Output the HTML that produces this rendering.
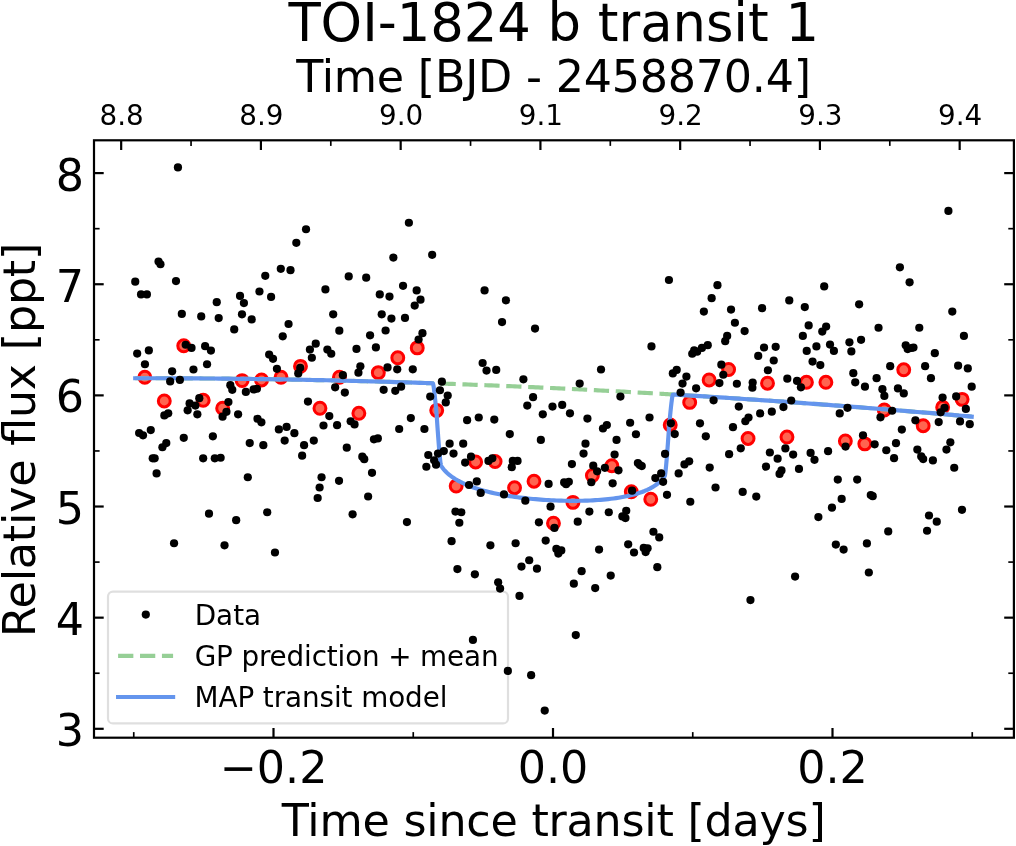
<!DOCTYPE html>
<html><head><meta charset="utf-8"><style>html,body{margin:0;padding:0;background:#fff;}svg{display:block;}</style></head>
<body><svg width="1016" height="846" viewBox="0 0 1016 846">
<rect width="1016" height="846" fill="#fff"/>
<defs><clipPath id="ax"><rect x="94.0" y="140.3" width="919.9" height="597.4000000000001"/></clipPath></defs>
<g clip-path="url(#ax)">
<g fill="#ff6450" stroke="#ff0000" stroke-width="3.0"><circle cx="144.82" cy="377.24" r="5.95"/><circle cx="164.28" cy="400.93" r="5.95"/><circle cx="183.74" cy="345.8" r="5.95"/><circle cx="203.2" cy="400.31" r="5.95"/><circle cx="222.66" cy="408.27" r="5.95"/><circle cx="242.11" cy="380.6" r="5.95"/><circle cx="261.57" cy="379.97" r="5.95"/><circle cx="281.03" cy="377.24" r="5.95"/><circle cx="300.49" cy="366.34" r="5.95"/><circle cx="319.95" cy="408.27" r="5.95"/><circle cx="339.41" cy="377.24" r="5.95"/><circle cx="358.87" cy="413.3" r="5.95"/><circle cx="378.33" cy="372.63" r="5.95"/><circle cx="397.79" cy="357.75" r="5.95"/><circle cx="417.25" cy="347.89" r="5.95"/><circle cx="436.71" cy="410.37" r="5.95"/><circle cx="456.17" cy="486.04" r="5.95"/><circle cx="475.63" cy="461.93" r="5.95"/><circle cx="495.09" cy="461.51" r="5.95"/><circle cx="514.55" cy="487.72" r="5.95"/><circle cx="534.01" cy="481.22" r="5.95"/><circle cx="553.47" cy="523.15" r="5.95"/><circle cx="572.93" cy="502.39" r="5.95"/><circle cx="592.39" cy="475.56" r="5.95"/><circle cx="611.85" cy="465.7" r="5.95"/><circle cx="631.3" cy="491.7" r="5.95"/><circle cx="650.76" cy="499.25" r="5.95"/><circle cx="670.22" cy="425.0" r="5.95"/><circle cx="689.68" cy="402.4" r="5.95"/><circle cx="709.14" cy="379.97" r="5.95"/><circle cx="728.6" cy="369.49" r="5.95"/><circle cx="748.06" cy="438.45" r="5.95"/><circle cx="767.52" cy="383.22" r="5.95"/><circle cx="786.98" cy="437.05" r="5.95"/><circle cx="806.44" cy="382.31" r="5.95"/><circle cx="825.9" cy="382.31" r="5.95"/><circle cx="845.36" cy="440.92" r="5.95"/><circle cx="864.82" cy="443.87" r="5.95"/><circle cx="884.28" cy="410.05" r="5.95"/><circle cx="903.74" cy="369.81" r="5.95"/><circle cx="923.2" cy="425.68" r="5.95"/><circle cx="942.66" cy="407.32" r="5.95"/><circle cx="962.12" cy="399.36" r="5.95"/></g>
<path d="M135.24,378.21 L140.15,378.21 L145.06,378.21 L149.97,378.21 L154.88,378.22 L159.80,378.23 L164.71,378.25 L169.62,378.26 L174.53,378.28 L179.44,378.31 L184.35,378.33 L189.26,378.36 L194.17,378.39 L199.09,378.42 L204.00,378.46 L208.91,378.50 L213.82,378.54 L218.73,378.59 L223.64,378.63 L228.55,378.69 L233.46,378.74 L238.37,378.80 L243.29,378.86 L248.20,378.92 L253.11,378.98 L258.02,379.05 L262.93,379.12 L267.84,379.19 L272.75,379.27 L277.66,379.35 L282.58,379.43 L287.49,379.52 L292.40,379.60 L297.31,379.69 L302.22,379.79 L307.13,379.88 L312.04,379.98 L316.95,380.08 L321.87,380.18 L326.78,380.29 L331.69,380.40 L336.60,380.51 L341.51,380.63 L346.42,380.74 L351.33,380.87 L356.24,380.99 L361.15,381.11 L366.07,381.24 L370.98,381.37 L375.89,381.51 L380.80,381.64 L385.71,381.78 L390.62,381.93 L395.53,382.07 L400.44,382.22 L405.36,382.37 L410.27,382.52 L415.18,382.68 L420.09,382.83 L425.00,383.00 L425.13,383.00 L425.25,383.00 L425.38,383.01 L425.50,383.01 L425.63,383.02 L425.75,383.02 L425.88,383.02 L426.01,383.03 L426.13,383.03 L426.26,383.04 L426.38,383.04 L426.51,383.05 L426.63,383.05 L426.76,383.05 L426.88,383.06 L427.01,383.06 L427.14,383.07 L427.26,383.07 L427.39,383.07 L427.51,383.08 L427.64,383.08 L427.76,383.09 L427.89,383.09 L428.02,383.10 L428.14,383.10 L428.27,383.10 L428.39,383.11 L428.52,383.11 L428.64,383.12 L428.77,383.12 L428.89,383.12 L429.02,383.13 L429.15,383.13 L429.27,383.14 L429.40,383.14 L429.52,383.15 L429.65,383.15 L429.77,383.15 L429.90,383.16 L430.03,383.16 L430.15,383.17 L430.28,383.17 L430.40,383.18 L430.53,383.18 L430.65,383.18 L430.78,383.19 L430.90,383.19 L431.03,383.20 L431.16,383.20 L431.28,383.21 L431.41,383.21 L431.53,383.21 L431.66,383.22 L431.78,383.22 L431.91,383.23 L432.04,383.23 L432.16,383.23 L432.29,383.24 L432.41,383.24 L432.54,383.25 L432.66,383.25 L432.79,383.26 L432.91,383.26 L433.04,383.26 L433.17,383.27 L433.29,383.27 L433.42,383.28 L433.54,383.28 L433.67,383.29 L433.79,383.29 L433.92,383.29 L434.05,383.30 L434.17,383.30 L434.30,383.31 L434.42,383.31 L434.55,383.32 L434.67,383.32 L434.80,383.32 L434.92,383.33 L435.05,383.33 L435.18,383.34 L435.30,383.34 L435.43,383.35 L435.55,383.35 L435.68,383.35 L435.80,383.36 L435.93,383.36 L436.06,383.37 L436.18,383.37 L436.31,383.38 L436.43,383.38 L436.56,383.38 L436.68,383.39 L436.81,383.39 L436.93,383.40 L437.06,383.40 L437.19,383.41 L437.31,383.41 L437.44,383.41 L437.56,383.42 L437.69,383.42 L437.81,383.43 L437.94,383.43 L438.07,383.44 L438.19,383.44 L438.32,383.45 L438.44,383.45 L438.57,383.45 L438.69,383.46 L438.82,383.46 L438.94,383.47 L439.07,383.47 L439.20,383.48 L439.32,383.48 L439.45,383.48 L439.57,383.49 L439.70,383.49 L439.82,383.50 L439.95,383.50 L440.08,383.51 L440.20,383.51 L440.33,383.51 L440.45,383.52 L440.58,383.52 L440.70,383.53 L440.83,383.53 L440.95,383.54 L441.08,383.54 L441.21,383.55 L441.33,383.55 L441.46,383.55 L441.58,383.56 L441.71,383.56 L441.83,383.57 L441.96,383.57 L442.09,383.58 L442.21,383.58 L442.34,383.58 L442.46,383.59 L442.59,383.59 L442.71,383.60 L442.84,383.60 L442.96,383.61 L443.09,383.61 L443.22,383.62 L443.34,383.62 L443.47,383.62 L443.59,383.63 L443.72,383.63 L443.84,383.64 L443.97,383.64 L444.10,383.65 L444.22,383.65 L444.35,383.66 L444.47,383.66 L444.60,383.66 L444.72,383.67 L444.85,383.67 L444.97,383.68 L445.10,383.68 L445.23,383.69 L445.35,383.69 L445.48,383.70 L445.60,383.70 L445.73,383.70 L445.85,383.71 L445.98,383.71 L446.11,383.72 L446.23,383.72 L446.36,383.73 L446.48,383.73 L446.61,383.73 L446.73,383.74 L446.86,383.74 L446.98,383.75 L447.11,383.75 L447.24,383.76 L447.36,383.76 L447.49,383.77 L447.61,383.77 L447.74,383.78 L447.86,383.78 L447.99,383.78 L448.12,383.79 L448.24,383.79 L448.37,383.80 L448.49,383.80 L448.62,383.81 L448.74,383.81 L448.87,383.82 L448.99,383.82 L449.12,383.82 L449.25,383.83 L449.37,383.83 L449.50,383.84 L449.62,383.84 L449.75,383.85 L449.87,383.85 L450.00,383.86 L452.59,383.95 L455.19,384.04 L457.78,384.14 L460.38,384.23 L462.97,384.33 L465.57,384.43 L468.16,384.52 L470.76,384.62 L473.35,384.72 L475.95,384.82 L478.54,384.92 L481.14,385.02 L483.73,385.12 L486.33,385.23 L488.92,385.33 L491.52,385.43 L494.11,385.54 L496.71,385.65 L499.30,385.75 L501.90,385.86 L504.49,385.97 L507.09,386.08 L509.68,386.18 L512.28,386.29 L514.87,386.41 L517.47,386.52 L520.06,386.63 L522.66,386.74 L525.25,386.86 L527.85,386.97 L530.44,387.08 L533.04,387.20 L535.63,387.32 L538.23,387.43 L540.82,387.55 L543.42,387.67 L546.01,387.79 L548.61,387.91 L551.20,388.03 L553.80,388.15 L556.39,388.28 L558.99,388.40 L561.58,388.52 L564.18,388.65 L566.77,388.77 L569.37,388.90 L571.96,389.02 L574.56,389.15 L577.15,389.28 L579.75,389.41 L582.34,389.54 L584.94,389.67 L587.53,389.80 L590.13,389.93 L592.72,390.06 L595.32,390.19 L597.91,390.33 L600.51,390.46 L603.10,390.60 L605.70,390.73 L608.29,390.87 L610.89,391.01 L613.48,391.14 L616.08,391.28 L618.67,391.42 L621.27,391.56 L623.86,391.70 L626.46,391.84 L629.05,391.99 L631.65,392.13 L634.24,392.27 L636.84,392.42 L639.43,392.56 L642.03,392.71 L644.62,392.85 L647.22,393.00 L649.81,393.15 L652.41,393.29 L655.00,393.44 L655.13,393.45 L655.25,393.46 L655.38,393.47 L655.50,393.47 L655.63,393.48 L655.75,393.49 L655.88,393.49 L656.01,393.50 L656.13,393.51 L656.26,393.52 L656.38,393.52 L656.51,393.53 L656.63,393.54 L656.76,393.54 L656.88,393.55 L657.01,393.56 L657.14,393.57 L657.26,393.57 L657.39,393.58 L657.51,393.59 L657.64,393.60 L657.76,393.60 L657.89,393.61 L658.02,393.62 L658.14,393.62 L658.27,393.63 L658.39,393.64 L658.52,393.65 L658.64,393.65 L658.77,393.66 L658.89,393.67 L659.02,393.68 L659.15,393.68 L659.27,393.69 L659.40,393.70 L659.52,393.70 L659.65,393.71 L659.77,393.72 L659.90,393.73 L660.03,393.73 L660.15,393.74 L660.28,393.75 L660.40,393.76 L660.53,393.76 L660.65,393.77 L660.78,393.78 L660.90,393.78 L661.03,393.79 L661.16,393.80 L661.28,393.81 L661.41,393.81 L661.53,393.82 L661.66,393.83 L661.78,393.84 L661.91,393.84 L662.04,393.85 L662.16,393.86 L662.29,393.87 L662.41,393.87 L662.54,393.88 L662.66,393.89 L662.79,393.89 L662.91,393.90 L663.04,393.91 L663.17,393.92 L663.29,393.92 L663.42,393.93 L663.54,393.94 L663.67,393.95 L663.79,393.95 L663.92,393.96 L664.05,393.97 L664.17,393.98 L664.30,393.98 L664.42,393.99 L664.55,394.00 L664.67,394.00 L664.80,394.01 L664.92,394.02 L665.05,394.03 L665.18,394.03 L665.30,394.04 L665.43,394.05 L665.55,394.06 L665.68,394.06 L665.80,394.07 L665.93,394.08 L666.06,394.09 L666.18,394.09 L666.31,394.10 L666.43,394.11 L666.56,394.12 L666.68,394.12 L666.81,394.13 L666.93,394.14 L667.06,394.14 L667.19,394.15 L667.31,394.16 L667.44,394.17 L667.56,394.17 L667.69,394.18 L667.81,394.19 L667.94,394.20 L668.07,394.20 L668.19,394.21 L668.32,394.22 L668.44,394.23 L668.57,394.23 L668.69,394.24 L668.82,394.25 L668.94,394.26 L669.07,394.26 L669.20,394.27 L669.32,394.28 L669.45,394.29 L669.57,394.29 L669.70,394.30 L669.82,394.31 L669.95,394.31 L670.08,394.32 L670.20,394.33 L670.33,394.34 L670.45,394.34 L670.58,394.35 L670.70,394.36 L670.83,394.37 L670.95,394.37 L671.08,394.38 L671.21,394.39 L671.33,394.40 L671.46,394.40 L671.58,394.41 L671.71,394.42 L671.83,394.43 L671.96,394.43 L672.09,394.44 L672.21,394.45 L672.34,394.46 L672.46,394.46 L672.59,394.47 L672.71,394.48 L672.84,394.49 L672.96,394.49 L673.09,394.50 L673.22,394.51 L673.34,394.52 L673.47,394.52 L673.59,394.53 L673.72,394.54 L673.84,394.55 L673.97,394.55 L674.10,394.56 L674.22,394.57 L674.35,394.58 L674.47,394.58 L674.60,394.59 L674.72,394.60 L674.85,394.61 L674.97,394.61 L675.10,394.62 L675.23,394.63 L675.35,394.64 L675.48,394.64 L675.60,394.65 L675.73,394.66 L675.85,394.67 L675.98,394.67 L676.11,394.68 L676.23,394.69 L676.36,394.70 L676.48,394.70 L676.61,394.71 L676.73,394.72 L676.86,394.73 L676.98,394.73 L677.11,394.74 L677.24,394.75 L677.36,394.76 L677.49,394.76 L677.61,394.77 L677.74,394.78 L677.86,394.79 L677.99,394.79 L678.12,394.80 L678.24,394.81 L678.37,394.82 L678.49,394.82 L678.62,394.83 L678.74,394.84 L678.87,394.85 L678.99,394.85 L679.12,394.86 L679.25,394.87 L679.37,394.88 L679.50,394.88 L679.62,394.89 L679.75,394.90 L679.87,394.91 L680.00,394.91 L684.94,395.21 L689.89,395.51 L694.83,395.82 L699.78,396.12 L704.72,396.43 L709.66,396.74 L714.61,397.05 L719.55,397.37 L724.50,397.69 L729.44,398.01 L734.38,398.33 L739.33,398.66 L744.27,398.98 L749.22,399.31 L754.16,399.65 L759.11,399.98 L764.05,400.32 L768.99,400.66 L773.94,401.00 L778.88,401.35 L783.83,401.69 L788.77,402.04 L793.71,402.39 L798.66,402.75 L803.60,403.10 L808.55,403.46 L813.49,403.83 L818.43,404.19 L823.38,404.56 L828.32,404.92 L833.27,405.30 L838.21,405.67 L843.15,406.04 L848.10,406.42 L853.04,406.80 L857.99,407.18 L862.93,407.57 L867.87,407.96 L872.82,408.35 L877.76,408.74 L882.71,409.13 L887.65,409.53 L892.59,409.93 L897.54,410.33 L902.48,410.73 L907.43,411.14 L912.37,411.55 L917.32,411.96 L922.26,412.37 L927.20,412.78 L932.15,413.20 L937.09,413.62 L942.04,414.04 L946.98,414.47 L951.92,414.89 L956.87,415.32 L961.81,415.75 L966.76,416.19 L971.70,416.62" fill="none" stroke="#96cf96" stroke-width="4.17" stroke-dasharray="15.25,6.67" stroke-dashoffset="1.5"/>
<path d="M135.24,378.21 L140.15,378.21 L145.06,378.21 L149.97,378.21 L154.88,378.22 L159.80,378.23 L164.71,378.25 L169.62,378.26 L174.53,378.28 L179.44,378.31 L184.35,378.33 L189.26,378.36 L194.17,378.39 L199.09,378.42 L204.00,378.46 L208.91,378.50 L213.82,378.54 L218.73,378.59 L223.64,378.63 L228.55,378.69 L233.46,378.74 L238.37,378.80 L243.29,378.86 L248.20,378.92 L253.11,378.98 L258.02,379.05 L262.93,379.12 L267.84,379.19 L272.75,379.27 L277.66,379.35 L282.58,379.43 L287.49,379.52 L292.40,379.60 L297.31,379.69 L302.22,379.79 L307.13,379.88 L312.04,379.98 L316.95,380.08 L321.87,380.18 L326.78,380.29 L331.69,380.40 L336.60,380.51 L341.51,380.63 L346.42,380.74 L351.33,380.87 L356.24,380.99 L361.15,381.11 L366.07,381.24 L370.98,381.37 L375.89,381.51 L380.80,381.64 L385.71,381.78 L390.62,381.93 L395.53,382.07 L400.44,382.22 L405.36,382.37 L410.27,382.52 L415.18,382.68 L420.09,382.83 L425.00,383.00 L425.13,383.00 L425.25,383.00 L425.38,383.01 L425.50,383.01 L425.63,383.02 L425.75,383.02 L425.88,383.02 L426.01,383.03 L426.13,383.03 L426.26,383.04 L426.38,383.04 L426.51,383.05 L426.63,383.05 L426.76,383.05 L426.88,383.06 L427.01,383.06 L427.14,383.07 L427.26,383.07 L427.39,383.07 L427.51,383.08 L427.64,383.08 L427.76,383.09 L427.89,383.09 L428.02,383.10 L428.14,383.10 L428.27,383.10 L428.39,383.11 L428.52,383.11 L428.64,383.12 L428.77,383.12 L428.89,383.12 L429.02,383.13 L429.15,383.13 L429.27,383.14 L429.40,383.14 L429.52,383.15 L429.65,383.15 L429.77,383.15 L429.90,383.16 L430.03,383.16 L430.15,383.17 L430.28,383.17 L430.40,383.18 L430.53,383.18 L430.65,383.18 L430.78,383.19 L430.90,383.19 L431.03,383.20 L431.16,383.20 L431.28,383.21 L431.41,383.21 L431.53,383.21 L431.66,383.22 L431.78,383.22 L431.91,383.23 L432.04,383.23 L432.16,383.23 L432.29,383.24 L432.41,383.24 L432.54,383.25 L432.66,383.25 L432.79,383.26 L432.91,383.32 L433.04,383.66 L433.17,384.15 L433.29,384.71 L433.42,385.39 L433.54,386.09 L433.67,386.91 L433.79,387.73 L433.92,388.66 L434.05,389.64 L434.17,390.59 L434.30,391.65 L434.42,392.66 L434.55,393.79 L434.67,394.86 L434.80,396.05 L434.92,397.17 L435.05,398.41 L435.18,399.67 L435.30,400.84 L435.43,402.14 L435.55,403.35 L435.68,404.67 L435.80,405.91 L435.93,407.26 L436.06,408.62 L436.18,409.88 L436.31,411.25 L436.43,412.52 L436.56,413.90 L436.68,415.18 L436.81,416.57 L436.93,418.78 L437.06,420.95 L437.19,422.92 L437.31,424.67 L437.44,426.52 L437.56,428.22 L437.69,430.03 L437.81,431.68 L437.94,433.46 L438.07,435.23 L438.19,436.84 L438.32,438.57 L438.44,440.15 L438.57,441.84 L438.69,443.38 L438.82,445.03 L438.94,446.53 L439.07,448.13 L439.20,449.69 L439.32,451.11 L439.45,452.61 L439.57,453.96 L439.70,455.37 L439.82,456.64 L439.95,457.96 L440.08,459.23 L440.20,460.34 L440.33,461.48 L440.45,462.45 L440.58,463.42 L440.70,464.22 L440.83,464.96 L440.95,465.47 L441.08,465.71 L441.21,465.92 L441.33,466.11 L441.46,466.31 L441.58,466.49 L441.71,466.69 L441.83,466.86 L441.96,467.05 L442.09,467.24 L442.21,467.41 L442.34,467.59 L442.46,467.75 L442.59,467.93 L442.71,468.09 L442.84,468.26 L442.96,468.41 L443.09,468.58 L443.22,468.74 L443.34,468.89 L443.47,469.05 L443.59,469.20 L443.72,469.36 L443.84,469.50 L443.97,469.66 L444.10,469.81 L444.22,469.95 L444.35,470.09 L444.47,470.23 L444.60,470.38 L444.72,470.51 L444.85,470.65 L444.97,470.78 L445.10,470.92 L445.23,471.06 L445.35,471.19 L445.48,471.32 L445.60,471.45 L445.73,471.58 L445.85,471.70 L445.98,471.84 L446.11,471.97 L446.23,472.08 L446.36,472.21 L446.48,472.33 L446.61,472.45 L446.73,472.57 L446.86,472.69 L446.98,472.81 L447.11,472.93 L447.24,473.05 L447.36,473.16 L447.49,473.28 L447.61,473.39 L447.74,473.50 L447.86,473.61 L447.99,473.72 L448.12,473.84 L448.24,473.94 L448.37,474.06 L448.49,474.16 L448.62,474.27 L448.74,474.37 L448.87,474.48 L448.99,474.58 L449.12,474.69 L449.25,474.80 L449.37,474.89 L449.50,475.00 L449.62,475.10 L449.75,475.20 L449.87,475.30 L450.00,475.40 L452.59,477.31 L455.19,479.02 L457.78,480.55 L460.38,481.95 L462.97,483.22 L465.57,484.40 L468.16,485.48 L470.76,486.49 L473.35,487.43 L475.95,488.32 L478.54,489.14 L481.14,489.92 L483.73,490.65 L486.33,491.34 L488.92,491.99 L491.52,492.61 L494.11,493.19 L496.71,493.74 L499.30,494.26 L501.90,494.76 L504.49,495.22 L507.09,495.67 L509.68,496.09 L512.28,496.49 L514.87,496.86 L517.47,497.22 L520.06,497.56 L522.66,497.87 L525.25,498.17 L527.85,498.46 L530.44,498.72 L533.04,498.97 L535.63,499.20 L538.23,499.42 L540.82,499.62 L543.42,499.80 L546.01,499.97 L548.61,500.12 L551.20,500.26 L553.80,500.39 L556.39,500.50 L558.99,500.59 L561.58,500.67 L564.18,500.73 L566.77,500.78 L569.37,500.81 L571.96,500.83 L574.56,500.83 L577.15,500.81 L579.75,500.78 L582.34,500.73 L584.94,500.66 L587.53,500.57 L590.13,500.46 L592.72,500.34 L595.32,500.19 L597.91,500.02 L600.51,499.82 L603.10,499.61 L605.70,499.36 L608.29,499.09 L610.89,498.79 L613.48,498.46 L616.08,498.10 L618.67,497.70 L621.27,497.27 L623.86,496.79 L626.46,496.27 L629.05,495.70 L631.65,495.08 L634.24,494.40 L636.84,493.65 L639.43,492.83 L642.03,491.93 L644.62,490.93 L647.22,489.81 L649.81,488.57 L652.41,487.16 L655.00,485.56 L655.13,485.47 L655.25,485.39 L655.38,485.30 L655.50,485.22 L655.63,485.13 L655.75,485.05 L655.88,484.96 L656.01,484.87 L656.13,484.78 L656.26,484.69 L656.38,484.60 L656.51,484.51 L656.63,484.42 L656.76,484.33 L656.88,484.24 L657.01,484.14 L657.14,484.04 L657.26,483.95 L657.39,483.85 L657.51,483.76 L657.64,483.66 L657.76,483.56 L657.89,483.46 L658.02,483.36 L658.14,483.26 L658.27,483.16 L658.39,483.06 L658.52,482.95 L658.64,482.85 L658.77,482.74 L658.89,482.64 L659.02,482.53 L659.15,482.42 L659.27,482.31 L659.40,482.20 L659.52,482.09 L659.65,481.97 L659.77,481.86 L659.90,481.75 L660.03,481.63 L660.15,481.51 L660.28,481.39 L660.40,481.28 L660.53,481.15 L660.65,481.04 L660.78,480.91 L660.90,480.79 L661.03,480.66 L661.16,480.53 L661.28,480.40 L661.41,480.27 L661.53,480.14 L661.66,480.01 L661.78,479.88 L661.91,479.74 L662.04,479.59 L662.16,479.46 L662.29,479.31 L662.41,479.18 L662.54,479.03 L662.66,478.88 L662.79,478.73 L662.91,478.59 L663.04,478.43 L663.17,478.27 L663.29,478.12 L663.42,477.95 L663.54,477.80 L663.67,477.63 L663.79,477.47 L663.92,477.29 L664.05,477.11 L664.17,476.94 L664.30,476.76 L664.42,476.59 L664.55,476.39 L664.67,476.22 L664.80,476.01 L664.92,475.56 L665.05,474.87 L665.18,474.03 L665.30,473.16 L665.43,472.13 L665.55,471.10 L665.68,469.92 L665.80,468.77 L665.93,467.47 L666.06,466.12 L666.18,464.83 L666.31,463.38 L666.43,462.02 L666.56,460.50 L666.68,459.07 L666.81,457.49 L666.93,456.01 L667.06,454.38 L667.19,452.72 L667.31,451.17 L667.44,449.48 L667.56,447.89 L667.69,446.16 L667.81,444.55 L667.94,442.78 L668.07,441.00 L668.19,439.34 L668.32,437.53 L668.44,435.83 L668.57,433.95 L668.69,432.16 L668.82,430.07 L668.94,427.68 L669.07,426.31 L669.20,424.94 L669.32,423.67 L669.45,422.31 L669.57,421.05 L669.70,419.69 L669.82,418.45 L669.95,417.11 L670.08,415.79 L670.20,414.57 L670.33,413.27 L670.45,412.08 L670.58,410.82 L670.70,409.66 L670.83,408.43 L670.95,407.32 L671.08,406.14 L671.21,404.99 L671.33,403.95 L671.46,402.86 L671.58,401.89 L671.71,400.87 L671.83,399.97 L671.96,399.04 L672.09,398.16 L672.21,397.41 L672.34,396.65 L672.46,396.02 L672.59,395.42 L672.71,394.96 L672.84,394.60 L672.96,394.49 L673.09,394.50 L673.22,394.51 L673.34,394.52 L673.47,394.52 L673.59,394.53 L673.72,394.54 L673.84,394.55 L673.97,394.55 L674.10,394.56 L674.22,394.57 L674.35,394.58 L674.47,394.58 L674.60,394.59 L674.72,394.60 L674.85,394.61 L674.97,394.61 L675.10,394.62 L675.23,394.63 L675.35,394.64 L675.48,394.64 L675.60,394.65 L675.73,394.66 L675.85,394.67 L675.98,394.67 L676.11,394.68 L676.23,394.69 L676.36,394.70 L676.48,394.70 L676.61,394.71 L676.73,394.72 L676.86,394.73 L676.98,394.73 L677.11,394.74 L677.24,394.75 L677.36,394.76 L677.49,394.76 L677.61,394.77 L677.74,394.78 L677.86,394.79 L677.99,394.79 L678.12,394.80 L678.24,394.81 L678.37,394.82 L678.49,394.82 L678.62,394.83 L678.74,394.84 L678.87,394.85 L678.99,394.85 L679.12,394.86 L679.25,394.87 L679.37,394.88 L679.50,394.88 L679.62,394.89 L679.75,394.90 L679.87,394.91 L680.00,394.91 L684.94,395.21 L689.89,395.51 L694.83,395.82 L699.78,396.12 L704.72,396.43 L709.66,396.74 L714.61,397.05 L719.55,397.37 L724.50,397.69 L729.44,398.01 L734.38,398.33 L739.33,398.66 L744.27,398.98 L749.22,399.31 L754.16,399.65 L759.11,399.98 L764.05,400.32 L768.99,400.66 L773.94,401.00 L778.88,401.35 L783.83,401.69 L788.77,402.04 L793.71,402.39 L798.66,402.75 L803.60,403.10 L808.55,403.46 L813.49,403.83 L818.43,404.19 L823.38,404.56 L828.32,404.92 L833.27,405.30 L838.21,405.67 L843.15,406.04 L848.10,406.42 L853.04,406.80 L857.99,407.18 L862.93,407.57 L867.87,407.96 L872.82,408.35 L877.76,408.74 L882.71,409.13 L887.65,409.53 L892.59,409.93 L897.54,410.33 L902.48,410.73 L907.43,411.14 L912.37,411.55 L917.32,411.96 L922.26,412.37 L927.20,412.78 L932.15,413.20 L937.09,413.62 L942.04,414.04 L946.98,414.47 L951.92,414.89 L956.87,415.32 L961.81,415.75 L966.76,416.19 L971.70,416.62" fill="none" stroke="#6495ed" stroke-width="4.17" stroke-linecap="square" stroke-linejoin="round"/>
</g>

<rect x="108" y="591.6" width="400" height="131.8" rx="5" ry="5" fill="#fff" fill-opacity="0.8" stroke="#dfdfdf" stroke-width="2.2"/>
<circle cx="145.8" cy="614.6" r="4.1" fill="#000"/>
<text x="194.7" y="624.9" font-size="27.8" font-family="DejaVu Sans, Liberation Sans, sans-serif">Data</text>
<line x1="118.1" y1="655.9" x2="173.1" y2="655.9" stroke="#96cf96" stroke-width="4.17" stroke-dasharray="15.25,6.67"/>
<text x="194.7" y="665.9" font-size="27.8" textLength="303.8" lengthAdjust="spacing" font-family="DejaVu Sans, Liberation Sans, sans-serif">GP prediction + mean</text>
<line x1="118.1" y1="697" x2="173.1" y2="697" stroke="#6495ed" stroke-width="4.17" stroke-linecap="square"/>
<text x="194.6" y="707" font-size="27.8" textLength="252.8" lengthAdjust="spacing" font-family="DejaVu Sans, Liberation Sans, sans-serif">MAP transit model</text>

<g clip-path="url(#ax)" fill="#000"><circle cx="135.24" cy="281.66" r="4.1"/><circle cx="137.18" cy="353.55" r="4.1"/><circle cx="139.12" cy="433.0" r="4.1"/><circle cx="141.06" cy="294.43" r="4.1"/><circle cx="143.01" cy="435.3" r="4.1"/><circle cx="144.95" cy="364.25" r="4.1"/><circle cx="146.89" cy="294.43" r="4.1"/><circle cx="148.83" cy="350.41" r="4.1"/><circle cx="150.77" cy="430.06" r="4.1"/><circle cx="152.71" cy="458.37" r="4.1"/><circle cx="154.65" cy="458.37" r="4.1"/><circle cx="156.59" cy="473.46" r="4.1"/><circle cx="158.53" cy="261.53" r="4.1"/><circle cx="160.47" cy="264.26" r="4.1"/><circle cx="162.41" cy="447.25" r="4.1"/><circle cx="164.35" cy="415.4" r="4.1"/><circle cx="166.29" cy="443.06" r="4.1"/><circle cx="168.23" cy="413.3" r="4.1"/><circle cx="170.18" cy="381.44" r="4.1"/><circle cx="172.12" cy="371.37" r="4.1"/><circle cx="174.06" cy="543.27" r="4.1"/><circle cx="176.0" cy="281.03" r="4.1"/><circle cx="177.94" cy="167.4" r="4.1"/><circle cx="179.88" cy="379.97" r="4.1"/><circle cx="181.82" cy="313.93" r="4.1"/><circle cx="183.76" cy="437.82" r="4.1"/><circle cx="185.7" cy="344.75" r="4.1"/><circle cx="187.64" cy="410.37" r="4.1"/><circle cx="189.58" cy="403.45" r="4.1"/><circle cx="191.52" cy="347.89" r="4.1"/><circle cx="193.46" cy="369.49" r="4.1"/><circle cx="195.4" cy="405.55" r="4.1"/><circle cx="197.35" cy="414.35" r="4.1"/><circle cx="199.29" cy="398.21" r="4.1"/><circle cx="201.23" cy="316.45" r="4.1"/><circle cx="203.17" cy="458.37" r="4.1"/><circle cx="205.11" cy="346.22" r="4.1"/><circle cx="207.05" cy="364.25" r="4.1"/><circle cx="208.99" cy="513.71" r="4.1"/><circle cx="210.93" cy="350.62" r="4.1"/><circle cx="212.87" cy="436.35" r="4.1"/><circle cx="214.81" cy="458.37" r="4.1"/><circle cx="216.75" cy="302.19" r="4.1"/><circle cx="218.69" cy="318.12" r="4.1"/><circle cx="220.63" cy="457.74" r="4.1"/><circle cx="222.57" cy="416.66" r="4.1"/><circle cx="224.52" cy="545.37" r="4.1"/><circle cx="226.46" cy="411.84" r="4.1"/><circle cx="228.4" cy="401.98" r="4.1"/><circle cx="230.34" cy="385.21" r="4.1"/><circle cx="232.28" cy="389.82" r="4.1"/><circle cx="234.22" cy="329.44" r="4.1"/><circle cx="236.16" cy="520.21" r="4.1"/><circle cx="238.1" cy="414.35" r="4.1"/><circle cx="240.04" cy="295.9" r="4.1"/><circle cx="241.98" cy="314.35" r="4.1"/><circle cx="243.92" cy="303.03" r="4.1"/><circle cx="245.86" cy="391.92" r="4.1"/><circle cx="247.8" cy="477.23" r="4.1"/><circle cx="249.74" cy="443.06" r="4.1"/><circle cx="251.69" cy="319.38" r="4.1"/><circle cx="253.63" cy="389.4" r="4.1"/><circle cx="256.93" cy="388.77" r="4.1"/><circle cx="257.51" cy="418.75" r="4.1"/><circle cx="259.45" cy="291.51" r="4.1"/><circle cx="261.39" cy="422.32" r="4.1"/><circle cx="263.33" cy="445.16" r="4.1"/><circle cx="265.27" cy="275.79" r="4.1"/><circle cx="267.21" cy="512.24" r="4.1"/><circle cx="269.15" cy="354.6" r="4.1"/><circle cx="271.09" cy="296.95" r="4.1"/><circle cx="273.03" cy="358.8" r="4.1"/><circle cx="274.97" cy="552.5" r="4.1"/><circle cx="276.91" cy="368.86" r="4.1"/><circle cx="278.86" cy="429.43" r="4.1"/><circle cx="280.8" cy="268.87" r="4.1"/><circle cx="282.74" cy="336.36" r="4.1"/><circle cx="284.68" cy="440.55" r="4.1"/><circle cx="286.62" cy="426.92" r="4.1"/><circle cx="288.56" cy="323.99" r="4.1"/><circle cx="290.5" cy="270.13" r="4.1"/><circle cx="294.38" cy="433.21" r="4.1"/><circle cx="296.32" cy="242.87" r="4.1"/><circle cx="298.26" cy="373.47" r="4.1"/><circle cx="300.2" cy="367.81" r="4.1"/><circle cx="302.14" cy="455.64" r="4.1"/><circle cx="304.08" cy="445.16" r="4.1"/><circle cx="306.03" cy="229.25" r="4.1"/><circle cx="307.97" cy="401.56" r="4.1"/><circle cx="309.91" cy="349.57" r="4.1"/><circle cx="311.85" cy="357.75" r="4.1"/><circle cx="313.79" cy="440.55" r="4.1"/><circle cx="315.73" cy="343.7" r="4.1"/><circle cx="317.67" cy="497.99" r="4.1"/><circle cx="319.61" cy="487.51" r="4.1"/><circle cx="321.55" cy="477.23" r="4.1"/><circle cx="323.49" cy="425.5" r="4.1"/><circle cx="325.43" cy="289.41" r="4.1"/><circle cx="327.37" cy="349.57" r="4.1"/><circle cx="329.31" cy="416.03" r="4.1"/><circle cx="331.25" cy="353.76" r="4.1"/><circle cx="333.2" cy="314.35" r="4.1"/><circle cx="335.14" cy="387.31" r="4.1"/><circle cx="337.08" cy="425.2" r="4.1"/><circle cx="339.02" cy="480.8" r="4.1"/><circle cx="339.32" cy="330.7" r="4.1"/><circle cx="342.9" cy="375.15" r="4.1"/><circle cx="344.84" cy="392.55" r="4.1"/><circle cx="346.78" cy="447.67" r="4.1"/><circle cx="348.72" cy="276.42" r="4.1"/><circle cx="350.66" cy="421.27" r="4.1"/><circle cx="352.6" cy="514.34" r="4.1"/><circle cx="354.54" cy="424.41" r="4.1"/><circle cx="356.48" cy="348.94" r="4.1"/><circle cx="358.42" cy="372.63" r="4.1"/><circle cx="360.37" cy="366.34" r="4.1"/><circle cx="362.31" cy="456.69" r="4.1"/><circle cx="364.25" cy="459.2" r="4.1"/><circle cx="366.19" cy="277.67" r="4.1"/><circle cx="368.13" cy="496.52" r="4.1"/><circle cx="370.07" cy="335.31" r="4.1"/><circle cx="372.01" cy="472.83" r="4.1"/><circle cx="373.95" cy="439.29" r="4.1"/><circle cx="375.89" cy="347.47" r="4.1"/><circle cx="377.83" cy="438.45" r="4.1"/><circle cx="379.77" cy="294.43" r="4.1"/><circle cx="381.71" cy="314.35" r="4.1"/><circle cx="383.65" cy="389.82" r="4.1"/><circle cx="385.6" cy="330.49" r="4.1"/><circle cx="387.54" cy="367.39" r="4.1"/><circle cx="389.48" cy="296.53" r="4.1"/><circle cx="391.42" cy="318.54" r="4.1"/><circle cx="393.36" cy="257.55" r="4.1"/><circle cx="395.3" cy="390.87" r="4.1"/><circle cx="397.24" cy="369.28" r="4.1"/><circle cx="399.18" cy="429.01" r="4.1"/><circle cx="401.12" cy="386.68" r="4.1"/><circle cx="403.06" cy="285.85" r="4.1"/><circle cx="405.0" cy="317.91" r="4.1"/><circle cx="406.94" cy="522.1" r="4.1"/><circle cx="408.88" cy="222.75" r="4.1"/><circle cx="410.82" cy="418.12" r="4.1"/><circle cx="412.77" cy="369.28" r="4.1"/><circle cx="414.71" cy="305.55" r="4.1"/><circle cx="416.65" cy="290.46" r="4.1"/><circle cx="418.59" cy="339.51" r="4.1"/><circle cx="420.53" cy="299.68" r="4.1"/><circle cx="422.47" cy="333.22" r="4.1"/><circle cx="424.41" cy="429.01" r="4.1"/><circle cx="426.35" cy="466.75" r="4.1"/><circle cx="428.29" cy="455.01" r="4.1"/><circle cx="430.23" cy="396.53" r="4.1"/><circle cx="432.17" cy="254.82" r="4.1"/><circle cx="434.11" cy="460.25" r="4.1"/><circle cx="436.05" cy="464.65" r="4.1"/><circle cx="437.99" cy="453.54" r="4.1"/><circle cx="439.94" cy="390.24" r="4.1"/><circle cx="441.88" cy="381.65" r="4.1"/><circle cx="443.82" cy="451.03" r="4.1"/><circle cx="445.76" cy="402.4" r="4.1"/><circle cx="447.7" cy="395.48" r="4.1"/><circle cx="449.64" cy="443.69" r="4.1"/><circle cx="451.58" cy="541.18" r="4.1"/><circle cx="453.52" cy="453.54" r="4.1"/><circle cx="455.46" cy="511.62" r="4.1"/><circle cx="457.4" cy="569.05" r="4.1"/><circle cx="459.34" cy="522.73" r="4.1"/><circle cx="461.28" cy="512.24" r="4.1"/><circle cx="463.22" cy="443.69" r="4.1"/><circle cx="465.16" cy="462.56" r="4.1"/><circle cx="467.11" cy="420.22" r="4.1"/><circle cx="469.05" cy="484.99" r="4.1"/><circle cx="470.99" cy="456.69" r="4.1"/><circle cx="472.93" cy="639.91" r="4.1"/><circle cx="474.87" cy="574.29" r="4.1"/><circle cx="476.81" cy="481.43" r="4.1"/><circle cx="478.75" cy="417.5" r="4.1"/><circle cx="480.69" cy="492.96" r="4.1"/><circle cx="482.63" cy="362.99" r="4.1"/><circle cx="484.57" cy="290.46" r="4.1"/><circle cx="486.51" cy="370.54" r="4.1"/><circle cx="488.45" cy="460.88" r="4.1"/><circle cx="490.39" cy="545.37" r="4.1"/><circle cx="492.33" cy="458.37" r="4.1"/><circle cx="494.28" cy="419.59" r="4.1"/><circle cx="496.22" cy="369.91" r="4.1"/><circle cx="498.16" cy="582.25" r="4.1"/><circle cx="500.1" cy="588.54" r="4.1"/><circle cx="502.04" cy="322.11" r="4.1"/><circle cx="503.98" cy="494.42" r="4.1"/><circle cx="505.92" cy="300.3" r="4.1"/><circle cx="507.86" cy="670.93" r="4.1"/><circle cx="509.8" cy="434.05" r="4.1"/><circle cx="511.74" cy="467.17" r="4.1"/><circle cx="512.78" cy="460.88" r="4.1"/><circle cx="515.62" cy="543.27" r="4.1"/><circle cx="517.56" cy="460.88" r="4.1"/><circle cx="519.5" cy="595.88" r="4.1"/><circle cx="521.45" cy="566.53" r="4.1"/><circle cx="523.39" cy="379.34" r="4.1"/><circle cx="525.33" cy="500.71" r="4.1"/><circle cx="527.27" cy="405.55" r="4.1"/><circle cx="529.21" cy="560.24" r="4.1"/><circle cx="531.15" cy="675.13" r="4.1"/><circle cx="533.09" cy="397.16" r="4.1"/><circle cx="535.03" cy="328.61" r="4.1"/><circle cx="536.97" cy="568.63" r="4.1"/><circle cx="538.91" cy="522.31" r="4.1"/><circle cx="540.85" cy="439.92" r="4.1"/><circle cx="542.79" cy="414.35" r="4.1"/><circle cx="544.73" cy="710.56" r="4.1"/><circle cx="545.69" cy="540.55" r="4.1"/><circle cx="548.62" cy="483.94" r="4.1"/><circle cx="550.56" cy="506.58" r="4.1"/><circle cx="552.5" cy="406.59" r="4.1"/><circle cx="554.44" cy="527.97" r="4.1"/><circle cx="556.38" cy="548.93" r="4.1"/><circle cx="558.32" cy="553.54" r="4.1"/><circle cx="561.29" cy="550.4" r="4.1"/><circle cx="562.2" cy="404.92" r="4.1"/><circle cx="564.14" cy="482.47" r="4.1"/><circle cx="566.08" cy="484.2" r="4.1"/><circle cx="568.83" cy="481.85" r="4.1"/><circle cx="569.96" cy="413.3" r="4.1"/><circle cx="571.9" cy="464.03" r="4.1"/><circle cx="573.84" cy="583.72" r="4.1"/><circle cx="575.79" cy="635.08" r="4.1"/><circle cx="577.73" cy="521.68" r="4.1"/><circle cx="579.67" cy="383.53" r="4.1"/><circle cx="581.61" cy="571.14" r="4.1"/><circle cx="583.55" cy="453.54" r="4.1"/><circle cx="585.49" cy="443.69" r="4.1"/><circle cx="587.43" cy="418.54" r="4.1"/><circle cx="589.37" cy="511.62" r="4.1"/><circle cx="591.31" cy="482.26" r="4.1"/><circle cx="593.25" cy="465.7" r="4.1"/><circle cx="595.19" cy="588.12" r="4.1"/><circle cx="597.13" cy="471.36" r="4.1"/><circle cx="599.07" cy="549.56" r="4.1"/><circle cx="601.01" cy="369.49" r="4.1"/><circle cx="602.96" cy="428.5" r="4.1"/><circle cx="604.9" cy="467.8" r="4.1"/><circle cx="606.84" cy="425.0" r="4.1"/><circle cx="608.78" cy="512.24" r="4.1"/><circle cx="610.72" cy="575.55" r="4.1"/><circle cx="612.66" cy="483.31" r="4.1"/><circle cx="614.6" cy="454.59" r="4.1"/><circle cx="616.54" cy="439.92" r="4.1"/><circle cx="618.48" cy="470.31" r="4.1"/><circle cx="620.42" cy="396.53" r="4.1"/><circle cx="622.36" cy="516.44" r="4.1"/><circle cx="625.44" cy="518.11" r="4.1"/><circle cx="626.24" cy="510.78" r="4.1"/><circle cx="628.19" cy="544.32" r="4.1"/><circle cx="630.13" cy="422.74" r="4.1"/><circle cx="632.07" cy="490.65" r="4.1"/><circle cx="634.01" cy="552.5" r="4.1"/><circle cx="635.95" cy="434.26" r="4.1"/><circle cx="637.89" cy="462.98" r="4.1"/><circle cx="639.83" cy="465.0" r="4.1"/><circle cx="641.77" cy="466.12" r="4.1"/><circle cx="643.71" cy="547.88" r="4.1"/><circle cx="645.65" cy="552.08" r="4.1"/><circle cx="647.59" cy="548.3" r="4.1"/><circle cx="649.53" cy="417.5" r="4.1"/><circle cx="651.47" cy="346.43" r="4.1"/><circle cx="653.41" cy="531.74" r="4.1"/><circle cx="655.36" cy="478.07" r="4.1"/><circle cx="657.3" cy="567.16" r="4.1"/><circle cx="659.24" cy="537.4" r="4.1"/><circle cx="661.18" cy="473.46" r="4.1"/><circle cx="663.12" cy="481.85" r="4.1"/><circle cx="665.06" cy="453.96" r="4.1"/><circle cx="667.0" cy="494.84" r="4.1"/><circle cx="668.94" cy="279.98" r="4.1"/><circle cx="670.88" cy="423.37" r="4.1"/><circle cx="672.82" cy="373.47" r="4.1"/><circle cx="674.76" cy="434.05" r="4.1"/><circle cx="676.7" cy="369.91" r="4.1"/><circle cx="678.64" cy="473.46" r="4.1"/><circle cx="680.58" cy="392.55" r="4.1"/><circle cx="682.53" cy="383.53" r="4.1"/><circle cx="684.47" cy="464.44" r="4.1"/><circle cx="686.41" cy="376.62" r="4.1"/><circle cx="689.17" cy="461.3" r="4.1"/><circle cx="690.29" cy="501.76" r="4.1"/><circle cx="692.23" cy="353.76" r="4.1"/><circle cx="694.17" cy="350.4" r="4.1"/><circle cx="696.11" cy="388.36" r="4.1"/><circle cx="697.14" cy="351.67" r="4.1"/><circle cx="699.99" cy="423.37" r="4.1"/><circle cx="701.93" cy="347.89" r="4.1"/><circle cx="703.87" cy="311.62" r="4.1"/><circle cx="705.81" cy="436.35" r="4.1"/><circle cx="707.75" cy="345.17" r="4.1"/><circle cx="709.7" cy="467.59" r="4.1"/><circle cx="711.64" cy="298.21" r="4.1"/><circle cx="713.58" cy="400.31" r="4.1"/><circle cx="715.52" cy="487.51" r="4.1"/><circle cx="717.46" cy="285.22" r="4.1"/><circle cx="719.4" cy="383.11" r="4.1"/><circle cx="721.34" cy="364.67" r="4.1"/><circle cx="723.28" cy="374.73" r="4.1"/><circle cx="725.22" cy="341.19" r="4.1"/><circle cx="727.16" cy="335.94" r="4.1"/><circle cx="729.1" cy="454.17" r="4.1"/><circle cx="731.04" cy="309.53" r="4.1"/><circle cx="732.98" cy="427.2" r="4.1"/><circle cx="734.92" cy="322.74" r="4.1"/><circle cx="736.87" cy="383.74" r="4.1"/><circle cx="738.81" cy="406.59" r="4.1"/><circle cx="740.75" cy="448.3" r="4.1"/><circle cx="742.69" cy="491.91" r="4.1"/><circle cx="744.63" cy="331.12" r="4.1"/><circle cx="745.36" cy="421.27" r="4.1"/><circle cx="748.51" cy="417.5" r="4.1"/><circle cx="750.45" cy="600.07" r="4.1"/><circle cx="752.39" cy="387.73" r="4.1"/><circle cx="752.69" cy="382.49" r="4.1"/><circle cx="756.27" cy="496.62" r="4.1"/><circle cx="758.21" cy="355.94" r="4.1"/><circle cx="760.15" cy="413.46" r="4.1"/><circle cx="762.09" cy="308.19" r="4.1"/><circle cx="764.04" cy="347.52" r="4.1"/><circle cx="765.98" cy="466.61" r="4.1"/><circle cx="767.92" cy="370.26" r="4.1"/><circle cx="769.86" cy="452.51" r="4.1"/><circle cx="771.8" cy="411.64" r="4.1"/><circle cx="773.74" cy="360.48" r="4.1"/><circle cx="775.68" cy="346.84" r="4.1"/><circle cx="777.62" cy="458.65" r="4.1"/><circle cx="779.56" cy="473.88" r="4.1"/><circle cx="781.5" cy="470.47" r="4.1"/><circle cx="783.44" cy="407.09" r="4.1"/><circle cx="785.38" cy="448.42" r="4.1"/><circle cx="787.32" cy="378.67" r="4.1"/><circle cx="789.26" cy="300.46" r="4.1"/><circle cx="791.21" cy="400.5" r="4.1"/><circle cx="793.15" cy="454.56" r="4.1"/><circle cx="795.09" cy="576.6" r="4.1"/><circle cx="797.03" cy="380.95" r="4.1"/><circle cx="798.97" cy="468.88" r="4.1"/><circle cx="800.91" cy="387.31" r="4.1"/><circle cx="802.85" cy="335.93" r="4.1"/><circle cx="804.79" cy="307.05" r="4.1"/><circle cx="806.73" cy="350.94" r="4.1"/><circle cx="808.67" cy="325.47" r="4.1"/><circle cx="810.61" cy="452.97" r="4.1"/><circle cx="812.55" cy="361.62" r="4.1"/><circle cx="814.49" cy="459.79" r="4.1"/><circle cx="816.43" cy="346.39" r="4.1"/><circle cx="818.38" cy="517.08" r="4.1"/><circle cx="820.32" cy="365.03" r="4.1"/><circle cx="822.26" cy="331.61" r="4.1"/><circle cx="824.2" cy="286.42" r="4.1"/><circle cx="826.14" cy="326.61" r="4.1"/><circle cx="828.08" cy="451.15" r="4.1"/><circle cx="830.02" cy="344.57" r="4.1"/><circle cx="831.96" cy="507.53" r="4.1"/><circle cx="833.9" cy="350.94" r="4.1"/><circle cx="835.84" cy="544.59" r="4.1"/><circle cx="837.78" cy="479.57" r="4.1"/><circle cx="839.72" cy="413.46" r="4.1"/><circle cx="841.66" cy="498.89" r="4.1"/><circle cx="843.61" cy="549.6" r="4.1"/><circle cx="845.55" cy="446.6" r="4.1"/><circle cx="847.49" cy="407.78" r="4.1"/><circle cx="849.43" cy="342.3" r="4.1"/><circle cx="851.37" cy="351.39" r="4.1"/><circle cx="853.31" cy="373.22" r="4.1"/><circle cx="855.25" cy="382.31" r="4.1"/><circle cx="857.19" cy="479.57" r="4.1"/><circle cx="859.13" cy="304.33" r="4.1"/><circle cx="861.07" cy="339.79" r="4.1"/><circle cx="863.01" cy="435.23" r="4.1"/><circle cx="864.95" cy="386.63" r="4.1"/><circle cx="866.89" cy="543.46" r="4.1"/><circle cx="868.83" cy="572.51" r="4.1"/><circle cx="870.78" cy="495.03" r="4.1"/><circle cx="872.72" cy="496.17" r="4.1"/><circle cx="874.66" cy="444.33" r="4.1"/><circle cx="876.6" cy="378.22" r="4.1"/><circle cx="878.54" cy="327.74" r="4.1"/><circle cx="880.48" cy="417.32" r="4.1"/><circle cx="882.42" cy="389.13" r="4.1"/><circle cx="884.36" cy="395.95" r="4.1"/><circle cx="886.3" cy="450.24" r="4.1"/><circle cx="888.24" cy="531.41" r="4.1"/><circle cx="890.18" cy="366.17" r="4.1"/><circle cx="892.12" cy="410.73" r="4.1"/><circle cx="894.06" cy="458.2" r="4.1"/><circle cx="896.0" cy="443.19" r="4.1"/><circle cx="897.95" cy="388.45" r="4.1"/><circle cx="899.89" cy="267.32" r="4.1"/><circle cx="901.83" cy="429.55" r="4.1"/><circle cx="903.77" cy="393.45" r="4.1"/><circle cx="905.71" cy="345.25" r="4.1"/><circle cx="907.65" cy="349.12" r="4.1"/><circle cx="909.59" cy="282.32" r="4.1"/><circle cx="911.53" cy="348.0" r="4.1"/><circle cx="913.47" cy="347.52" r="4.1"/><circle cx="915.41" cy="420.28" r="4.1"/><circle cx="917.35" cy="449.56" r="4.1"/><circle cx="919.29" cy="327.74" r="4.1"/><circle cx="921.23" cy="456.38" r="4.1"/><circle cx="923.17" cy="459.11" r="4.1"/><circle cx="925.12" cy="366.17" r="4.1"/><circle cx="927.06" cy="530.73" r="4.1"/><circle cx="929.0" cy="515.49" r="4.1"/><circle cx="930.94" cy="378.22" r="4.1"/><circle cx="932.88" cy="460.47" r="4.1"/><circle cx="934.82" cy="353.21" r="4.1"/><circle cx="936.76" cy="521.63" r="4.1"/><circle cx="938.7" cy="422.1" r="4.1"/><circle cx="940.64" cy="412.32" r="4.1"/><circle cx="942.58" cy="397.54" r="4.1"/><circle cx="944.52" cy="407.78" r="4.1"/><circle cx="946.46" cy="449.56" r="4.1"/><circle cx="948.4" cy="210.93" r="4.1"/><circle cx="950.34" cy="442.28" r="4.1"/><circle cx="952.29" cy="311.6" r="4.1"/><circle cx="954.23" cy="467.75" r="4.1"/><circle cx="956.17" cy="396.41" r="4.1"/><circle cx="958.11" cy="365.71" r="4.1"/><circle cx="960.05" cy="421.42" r="4.1"/><circle cx="961.99" cy="509.81" r="4.1"/><circle cx="963.93" cy="335.93" r="4.1"/><circle cx="965.87" cy="408.91" r="4.1"/><circle cx="967.81" cy="368.44" r="4.1"/><circle cx="969.75" cy="424.15" r="4.1"/><circle cx="971.69" cy="386.63" r="4.1"/></g>
<rect x="94.0" y="140.3" width="919.9" height="597.4000000000001" fill="none" stroke="#000" stroke-width="2.2"/>
<line x1="273.50" y1="737.70" x2="273.50" y2="728.00" stroke="#000" stroke-width="2.2"/><line x1="553.00" y1="737.70" x2="553.00" y2="728.00" stroke="#000" stroke-width="2.2"/><line x1="832.50" y1="737.70" x2="832.50" y2="728.00" stroke="#000" stroke-width="2.2"/><line x1="133.75" y1="737.70" x2="133.75" y2="732.10" stroke="#000" stroke-width="1.67"/><line x1="413.25" y1="737.70" x2="413.25" y2="732.10" stroke="#000" stroke-width="1.67"/><line x1="692.75" y1="737.70" x2="692.75" y2="732.10" stroke="#000" stroke-width="1.67"/><line x1="972.25" y1="737.70" x2="972.25" y2="732.10" stroke="#000" stroke-width="1.67"/><line x1="121.17" y1="140.30" x2="121.17" y2="150.00" stroke="#000" stroke-width="2.2"/><line x1="260.92" y1="140.30" x2="260.92" y2="150.00" stroke="#000" stroke-width="2.2"/><line x1="400.67" y1="140.30" x2="400.67" y2="150.00" stroke="#000" stroke-width="2.2"/><line x1="540.42" y1="140.30" x2="540.42" y2="150.00" stroke="#000" stroke-width="2.2"/><line x1="680.17" y1="140.30" x2="680.17" y2="150.00" stroke="#000" stroke-width="2.2"/><line x1="819.92" y1="140.30" x2="819.92" y2="150.00" stroke="#000" stroke-width="2.2"/><line x1="959.67" y1="140.30" x2="959.67" y2="150.00" stroke="#000" stroke-width="2.2"/><line x1="191.05" y1="140.30" x2="191.05" y2="145.90" stroke="#000" stroke-width="1.67"/><line x1="330.80" y1="140.30" x2="330.80" y2="145.90" stroke="#000" stroke-width="1.67"/><line x1="470.55" y1="140.30" x2="470.55" y2="145.90" stroke="#000" stroke-width="1.67"/><line x1="610.30" y1="140.30" x2="610.30" y2="145.90" stroke="#000" stroke-width="1.67"/><line x1="750.05" y1="140.30" x2="750.05" y2="145.90" stroke="#000" stroke-width="1.67"/><line x1="889.80" y1="140.30" x2="889.80" y2="145.90" stroke="#000" stroke-width="1.67"/><line x1="94.00" y1="728.80" x2="103.70" y2="728.80" stroke="#000" stroke-width="2.2"/><line x1="1013.90" y1="728.80" x2="1004.20" y2="728.80" stroke="#000" stroke-width="2.2"/><line x1="94.00" y1="617.66" x2="103.70" y2="617.66" stroke="#000" stroke-width="2.2"/><line x1="1013.90" y1="617.66" x2="1004.20" y2="617.66" stroke="#000" stroke-width="2.2"/><line x1="94.00" y1="506.52" x2="103.70" y2="506.52" stroke="#000" stroke-width="2.2"/><line x1="1013.90" y1="506.52" x2="1004.20" y2="506.52" stroke="#000" stroke-width="2.2"/><line x1="94.00" y1="395.38" x2="103.70" y2="395.38" stroke="#000" stroke-width="2.2"/><line x1="1013.90" y1="395.38" x2="1004.20" y2="395.38" stroke="#000" stroke-width="2.2"/><line x1="94.00" y1="284.24" x2="103.70" y2="284.24" stroke="#000" stroke-width="2.2"/><line x1="1013.90" y1="284.24" x2="1004.20" y2="284.24" stroke="#000" stroke-width="2.2"/><line x1="94.00" y1="173.10" x2="103.70" y2="173.10" stroke="#000" stroke-width="2.2"/><line x1="1013.90" y1="173.10" x2="1004.20" y2="173.10" stroke="#000" stroke-width="2.2"/><line x1="94.00" y1="673.23" x2="99.60" y2="673.23" stroke="#000" stroke-width="1.67"/><line x1="1013.90" y1="673.23" x2="1008.30" y2="673.23" stroke="#000" stroke-width="1.67"/><line x1="94.00" y1="562.09" x2="99.60" y2="562.09" stroke="#000" stroke-width="1.67"/><line x1="1013.90" y1="562.09" x2="1008.30" y2="562.09" stroke="#000" stroke-width="1.67"/><line x1="94.00" y1="450.95" x2="99.60" y2="450.95" stroke="#000" stroke-width="1.67"/><line x1="1013.90" y1="450.95" x2="1008.30" y2="450.95" stroke="#000" stroke-width="1.67"/><line x1="94.00" y1="339.81" x2="99.60" y2="339.81" stroke="#000" stroke-width="1.67"/><line x1="1013.90" y1="339.81" x2="1008.30" y2="339.81" stroke="#000" stroke-width="1.67"/><line x1="94.00" y1="228.67" x2="99.60" y2="228.67" stroke="#000" stroke-width="1.67"/><line x1="1013.90" y1="228.67" x2="1008.30" y2="228.67" stroke="#000" stroke-width="1.67"/>
<text x="288.4" y="40.8" font-size="52.8" textLength="530.6" lengthAdjust="spacing" font-family="DejaVu Sans, Liberation Sans, sans-serif">TOI-1824 b transit 1</text><text x="296.2" y="91.8" font-size="44.4" textLength="514.9" lengthAdjust="spacing" font-family="DejaVu Sans, Liberation Sans, sans-serif">Time [BJD - 2458870.4]</text><text x="121.67" y="125.0" font-size="27.8" text-anchor="middle" font-family="DejaVu Sans, Liberation Sans, sans-serif">8.8</text><text x="261.42" y="125.0" font-size="27.8" text-anchor="middle" font-family="DejaVu Sans, Liberation Sans, sans-serif">8.9</text><text x="401.17" y="125.0" font-size="27.8" text-anchor="middle" font-family="DejaVu Sans, Liberation Sans, sans-serif">9.0</text><text x="540.92" y="125.0" font-size="27.8" text-anchor="middle" font-family="DejaVu Sans, Liberation Sans, sans-serif">9.1</text><text x="680.67" y="125.0" font-size="27.8" text-anchor="middle" font-family="DejaVu Sans, Liberation Sans, sans-serif">9.2</text><text x="820.42" y="125.0" font-size="27.8" text-anchor="middle" font-family="DejaVu Sans, Liberation Sans, sans-serif">9.3</text><text x="960.17" y="125.0" font-size="27.8" text-anchor="middle" font-family="DejaVu Sans, Liberation Sans, sans-serif">9.4</text><text x="83.9" y="745.60" font-size="44.4" text-anchor="end" font-family="DejaVu Sans, Liberation Sans, sans-serif">3</text><text x="83.9" y="634.56" font-size="44.4" text-anchor="end" font-family="DejaVu Sans, Liberation Sans, sans-serif">4</text><text x="83.9" y="524.12" font-size="44.4" text-anchor="end" font-family="DejaVu Sans, Liberation Sans, sans-serif">5</text><text x="83.9" y="411.88" font-size="44.4" text-anchor="end" font-family="DejaVu Sans, Liberation Sans, sans-serif">6</text><text x="83.9" y="302.24" font-size="44.4" text-anchor="end" font-family="DejaVu Sans, Liberation Sans, sans-serif">7</text><text x="83.9" y="191.00" font-size="44.4" text-anchor="end" font-family="DejaVu Sans, Liberation Sans, sans-serif">8</text><text x="273.50" y="782.5" font-size="44.4" text-anchor="middle" font-family="DejaVu Sans, Liberation Sans, sans-serif">−0.2</text><text x="553.00" y="782.5" font-size="44.4" text-anchor="middle" font-family="DejaVu Sans, Liberation Sans, sans-serif">0.0</text><text x="832.50" y="782.5" font-size="44.4" text-anchor="middle" font-family="DejaVu Sans, Liberation Sans, sans-serif">0.2</text><text x="281.8" y="836.1" font-size="44.4" textLength="544.0" lengthAdjust="spacing" font-family="DejaVu Sans, Liberation Sans, sans-serif">Time since transit [days]</text><text transform="translate(34.8,637.0) rotate(-90)" x="0" y="0" font-size="44.4" textLength="394.4" lengthAdjust="spacing" font-family="DejaVu Sans, Liberation Sans, sans-serif">Relative flux [ppt]</text>
</svg></body></html>
